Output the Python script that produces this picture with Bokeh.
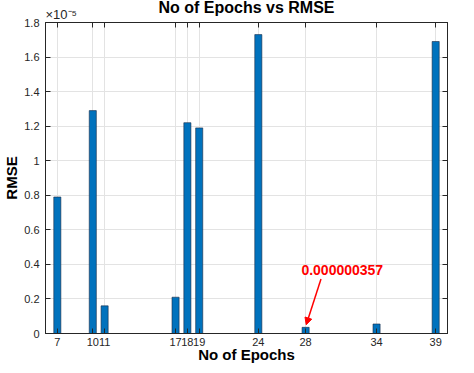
from bokeh.plotting import figure
from bokeh.models import (FixedTicker, CustomJSTickFormatter, Range1d, Label, Arrow, NormalHead,
                          ColumnDataSource, LinearAxis, Title)
from bokeh.embed import file_html
from bokeh.resources import INLINE

epochs = [7, 10, 11, 17, 18, 19, 24, 28, 34, 39]
rmse = [0.79e-5, 1.29e-5, 0.16e-5, 0.21e-5, 1.22e-5, 1.19e-5, 1.73e-5, 0.0357e-5, 0.055e-5, 1.69e-5]
y_ticks = [0, 0.2e-5, 0.4e-5, 0.6e-5, 0.8e-5, 1.0e-5, 1.2e-5, 1.4e-5, 1.6e-5, 1.8e-5]
annot_text = "0.000000357"
annot_idx = 7
exponent_text = "×10⁻⁵"

FONT = "Liberation Sans"

p = figure(width=466, height=365, output_backend="svg", toolbar_location=None,
           x_range=Range1d(6, 40), y_range=Range1d(0, 1.8e-5),
           min_border_left=43, min_border_right=19, min_border_top=0, min_border_bottom=0)

src = ColumnDataSource(dict(x=epochs, top=rmse))
p.vbar(x="x", top="top", bottom=0, width=0.6, source=src,
       fill_color="#0072BD", line_color="#1a2a44", line_width=0.6)

# extra axes for MATLAB-style box ticks (no labels)
blank = CustomJSTickFormatter(code="return '';")
top_ax = LinearAxis(ticker=FixedTicker(ticks=epochs), formatter=blank)
right_ax = LinearAxis(ticker=FixedTicker(ticks=y_ticks), formatter=blank)
for ax in (top_ax, right_ax):
    ax.major_label_standoff = 0
p.add_layout(top_ax, "above")
p.add_layout(right_ax, "right")

# invisible spacer above the frame
spacer = LinearAxis(ticker=FixedTicker(ticks=epochs), formatter=blank,
                    axis_line_color=None, major_tick_line_color=None,
                    minor_tick_line_color=None, major_tick_in=0, major_tick_out=9,
                    major_label_standoff=0)
p.add_layout(spacer, "above")

# exponent marker
p.add_layout(Title(text=exponent_text, align="left", text_font=FONT, text_font_size="13px",
                   text_font_style="normal", text_color="#262626", standoff=-16), "above")

p.title.text = "No of Epochs vs RMSE"
p.title.align = "center"
p.title.text_font = FONT
p.title.text_font_size = "16px"
p.title.text_font_style = "bold"
p.title.text_color = "black"
p.title.standoff = -7

p.xaxis.ticker = FixedTicker(ticks=epochs)
p.yaxis.ticker = FixedTicker(ticks=y_ticks)
p.left[0].formatter = CustomJSTickFormatter(code="""
var s = (tick*1e5).toFixed(1);
if (s.endsWith('.0')) { s = s.slice(0, -2); }
return s;
""")
p.below[0].axis_label = "No of Epochs"
p.left[0].axis_label = "RMSE"
for ax in (p.below[0], p.left[0]):
    ax.axis_label_text_font = FONT
    ax.axis_label_text_font_size = "15px"
    ax.axis_label_text_font_style = "bold"
    ax.axis_label_text_color = "black"
    ax.major_label_text_font = FONT
    ax.major_label_text_font_size = "11px"
    ax.major_label_text_color = "#262626"
p.below[0].major_label_standoff = 4
p.below[0].axis_label_standoff = -3
p.left[0].major_label_standoff = 6
p.left[0].axis_label_standoff = 1
for ax in (p.below[0], p.left[0], top_ax, right_ax):
    ax.axis_line_color = "#262626"
    ax.major_tick_line_color = "#262626"
    ax.major_tick_in = 5
    ax.major_tick_out = 0
    ax.minor_tick_line_color = None

p.xgrid.ticker = FixedTicker(ticks=epochs)
p.ygrid.ticker = FixedTicker(ticks=y_ticks)
p.grid.grid_line_color = "#e3e3e3"
p.grid.grid_line_width = 1

p.outline_line_color = "#262626"
p.outline_line_alpha = 1
p.outline_line_width = 1

# annotation
ax_ = epochs[annot_idx]
ay_ = rmse[annot_idx]
p.add_layout(Arrow(x_start=ax_ + 1.3, y_start=ay_ + 0.28e-5, x_end=ax_ + 0.05, y_end=ay_ + 0.015e-5,
                   line_color="#ff0000", line_width=1.5,
                   end=NormalHead(size=7, fill_color="#ff0000", line_color="#ff0000")))
p.add_layout(Label(x=ax_ + 3.1, y=ay_ + 0.30e-5, text=annot_text, text_align="center",
                   text_font=FONT, text_font_size="14px", text_font_style="bold",
                   text_color="#ff0000"))

open("out.html", "w").write(file_html(p, INLINE))
